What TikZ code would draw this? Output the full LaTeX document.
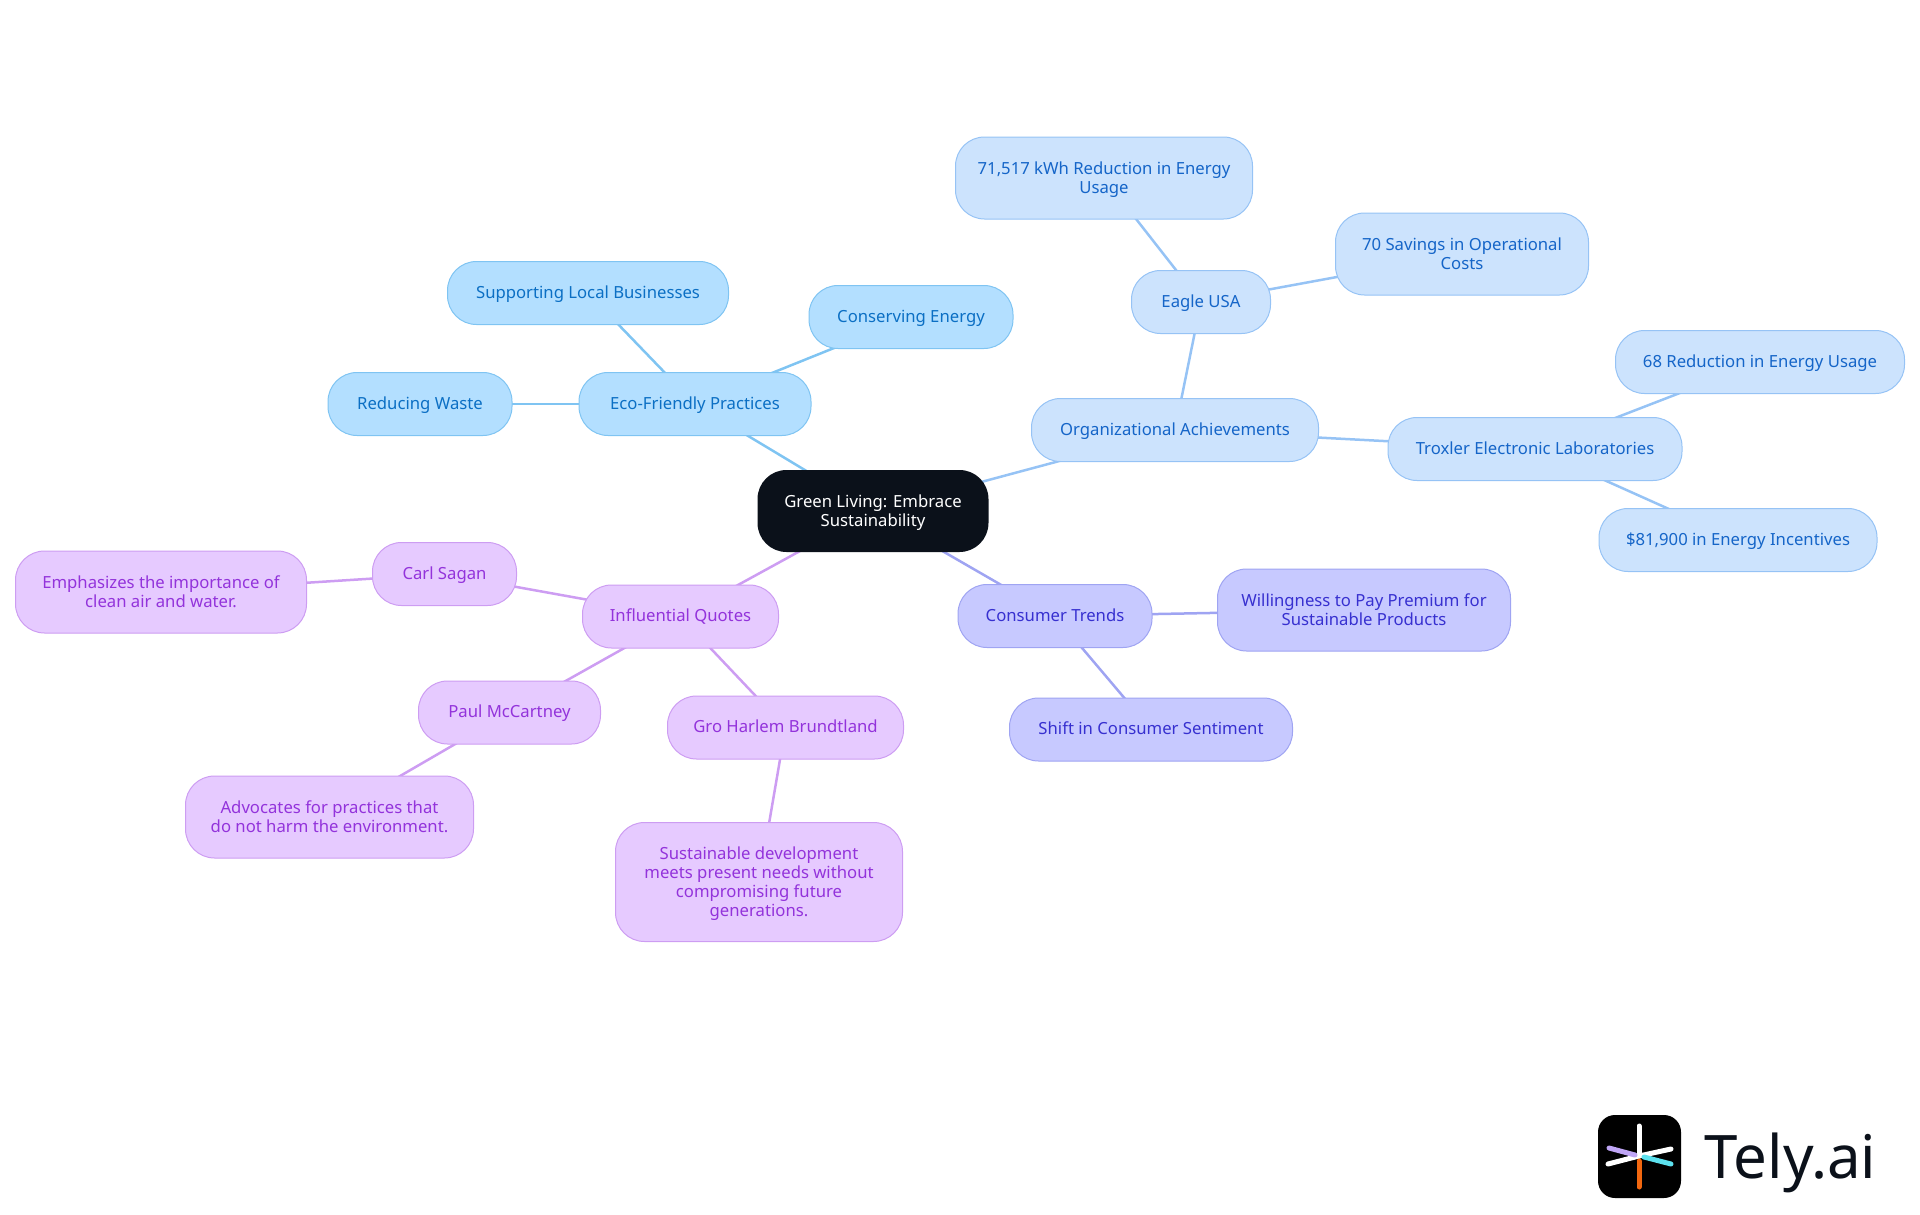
\documentclass[tikz,border=0pt]{standalone}
\usepackage{fontspec}
\setmainfont{Noto Sans}
\usetikzlibrary{backgrounds}
\definecolor{rootfill}{HTML}{0B111A}
\definecolor{ecofill}{HTML}{B3DFFF}
\definecolor{ecoline}{HTML}{7FC4F2}
\definecolor{ecotext}{HTML}{0B6FC4}
\definecolor{orgfill}{HTML}{CCE3FD}
\definecolor{orgline}{HTML}{96C3F5}
\definecolor{orgtext}{HTML}{1565C8}
\definecolor{trendfill}{HTML}{C7C9FF}
\definecolor{trendline}{HTML}{9FA4F2}
\definecolor{trendtext}{HTML}{3730D0}
\definecolor{quotefill}{HTML}{E6CAFF}
\definecolor{quoteline}{HTML}{CD9DF2}
\definecolor{quotetext}{HTML}{9333DB}
\definecolor{logocyan}{HTML}{5CE1EE}
\definecolor{logolilac}{HTML}{BFA5F5}
\definecolor{logoorange}{HTML}{F2670F}

\begin{document}
\begin{tikzpicture}[x=1pt,y=-1pt,
                    every node/.style={align=center,inner sep=0pt,minimum height=63pt,
                      rounded corners=29pt,line width=1pt,
                      font=\fontsize{16.7}{19}\selectfont},
                    card/.style={execute at begin node=\rule{0pt}{16.5pt},execute at end node=\strut},
                    twolines/.style={minimum height=82pt,execute at begin node=\rule{0pt}{37pt}},
                    fourlines/.style={minimum height=119pt,execute at begin node=\rule{0pt}{75pt}},
                    eco/.style={card,draw=ecoline,fill=ecofill,text=ecotext},
                    org/.style={card,draw=orgline,fill=orgfill,text=orgtext},
                    trend/.style={card,draw=trendline,fill=trendfill,text=trendtext},
                    quote/.style={card,draw=quoteline,fill=quotefill,text=quotetext},
                    link/.style={line width=2.5pt}]
  \useasboundingbox (0,0) rectangle (1920,1215);

  \node[card,twolines,fill=rootfill,text=white,minimum width=231pt] (root) at (873,511) {Green Living: Embrace\\Sustainability};

  \node[eco,minimum width=232pt] (practices) at (695,404) {Eco-Friendly Practices};
  \node[eco,minimum width=281pt] (business) at (588,293) {Supporting Local Businesses};
  \node[eco,minimum width=204pt] (energy) at (911,317) {Conserving Energy};
  \node[eco,minimum width=184pt] (waste) at (420,404) {Reducing Waste};

  \node[org,minimum width=287pt] (achieve) at (1175,430) {Organizational Achievements};
  \node[org,minimum width=139pt] (eagle) at (1201,302) {Eagle USA};
  \node[org,twolines,minimum width=297pt] (kwh) at (1104,178) {71,517 kWh Reduction in Energy\\Usage};
  \node[org,twolines,minimum width=253pt] (savings) at (1462,254) {70 Savings in Operational\\Costs};
  \node[org,minimum width=294pt] (troxler) at (1535,449) {Troxler Electronic Laboratories};
  \node[org,minimum width=289pt] (usage) at (1760,362) {68 Reduction in Energy Usage};
  \node[org,minimum width=278pt] (incent) at (1738,540) {\$81,900 in Energy Incentives};

  \node[trend,minimum width=194pt] (trends) at (1055,616) {Consumer Trends};
  \node[trend,twolines,minimum width=293pt] (premium) at (1364,610) {Willingness to Pay Premium for\\Sustainable Products};
  \node[trend,minimum width=283pt] (shift) at (1151,729.5) {Shift in Consumer Sentiment};

  \node[quote,minimum width=196pt] (quotes) at (680.5,616.5) {Influential Quotes};
  \node[quote,minimum width=144pt] (sagan) at (444.5,574) {Carl Sagan};
  \node[quote,twolines,minimum width=291pt] (air) at (161,592) {Emphasizes the importance of\\clean air and water.};
  \node[quote,minimum width=182pt] (paul) at (509.5,712.5) {Paul McCartney};
  \node[quote,twolines,minimum width=288pt] (harm) at (329.5,817) {Advocates for practices that\\do not harm the environment.};
  \node[quote,minimum width=236pt] (gro) at (785.5,727.5) {Gro Harlem Brundtland};
  \node[quote,fourlines,minimum width=287pt] (needs) at (759,882) {Sustainable development\\meets present needs without\\compromising future\\generations.};

  \begin{scope}[on background layer]
    \path[link,ecoline] (root.center) edge (practices.center)
          (practices.center) edge (business.center)
          (practices.center) edge (energy.center)
          (practices.center) edge (waste.center);
    \path[link,orgline] (root.center) edge (achieve.center)
          (achieve.center) edge (eagle.center)
          (eagle.center) edge (kwh.center)
          (eagle.center) edge (savings.center)
          (achieve.center) edge (troxler.center)
          (troxler.center) edge (usage.center)
          (troxler.center) edge (incent.center);
    \path[link,trendline] (root.center) edge (trends.center)
          (trends.center) edge (premium.center)
          (trends.center) edge (shift.center);
    \path[link,quoteline] (root.center) edge (quotes.center)
          (quotes.center) edge (sagan.center)
          (sagan.center) edge (air.center)
          (quotes.center) edge (paul.center)
          (paul.center) edge (harm.center)
          (quotes.center) edge (gro.center)
          (gro.center) edge (needs.center);
  \end{scope}

  \node[fill=black,minimum width=83pt,minimum height=83pt,rounded corners=17pt] (logo) at (1639.5,1156.5) {};
  \coordinate (hub) at (1639,1156);
  \foreach \tipx/\tipy in {1639/1126,1608/1164,1671/1149}
    \draw[white,line width=5pt,line cap=round] (hub) -- (\tipx,\tipy);
  \draw[logolilac,line width=5pt,line cap=round] (1635,1155) -- (1609,1148);
  \draw[logocyan,line width=5pt,line cap=round] (1644,1157) -- (1671,1164);
  \draw[logoorange,line width=5pt,line cap=round] (1639,1161) -- (1639,1187);
  \node[minimum height=0pt,text=rootfill,anchor=base west,font=\fontsize{60}{60}\selectfont] (brand) at (1704,1178) {Tely.ai};
\end{tikzpicture}
\end{document}
